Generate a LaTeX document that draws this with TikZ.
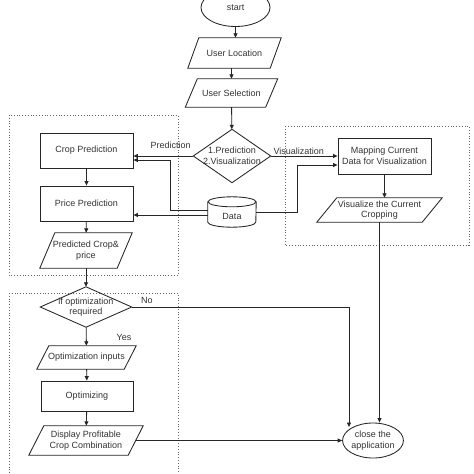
\documentclass[tikz,border=0pt]{standalone}
\usepackage{fontspec}
\setmainfont{Liberation Sans}
\usetikzlibrary{arrows.meta,calc,shapes.geometric}
\newcommand{\mypara}[2]{\draw[line] ($(#1.south west)+(-#2,0)$) -- ($(#1.north west)+(#2,0)$) -- ($(#1.north east)+(#2,0)$) -- ($(#1.south east)+(-#2,0)$) -- cycle;}
\newcommand{\mydiam}[1]{\draw[line] (#1.north) -- (#1.east) -- (#1.south) -- (#1.west) -- cycle;}
\begin{document}
\begin{tikzpicture}[x=1pt,y=-1pt,
  font=\fontsize{9}{10.5}\selectfont,
  line/.style={draw=black!85, line width=0.85pt},
  arr/.style={line, -{Triangle[length=4.5pt,width=4pt]}},
  box/.style={rectangle, line, text=black!80, align=center, inner sep=1pt},
  pl/.style={rectangle, text=black!80, align=center, inner sep=1pt},
  lbl/.style={text=black!80, inner sep=1pt},
  grp/.style={draw=black!60, dotted, line width=0.8pt},
  oval/.style={ellipse, line, text=black!80, align=center, inner sep=0pt}]
\useasboundingbox (0,0) rectangle (474,474);
\fill[white] (0,0) rectangle (474,474);
\clip (0,0) rectangle (474,474);

% group boxes
\draw[grp] (9,115) rectangle (178,275);
\draw[grp] (285,126) rectangle (469,245);
\draw[grp] (9,293) rectangle (178,480);

% nodes
\node[oval, minimum width=69pt, minimum height=38pt] (start) at (235.5,7.5) {start};
\node[pl, minimum width=82pt, minimum height=30pt] (loc) at (234.5,53) {User Location};
\node[pl, minimum width=80pt, minimum height=28pt] (sel) at (231.5,93) {User Selection};
\node[pl, minimum width=77pt, minimum height=53pt, inner sep=0pt] (dia) at (232,156) {1.Prediction\\2.Visualization};
\node[box, minimum width=93pt, minimum height=35pt] (crop) at (86.5,150.5) {Crop Prediction};
\node[box, minimum width=93pt, minimum height=35pt] (price) at (86.5,203.5) {Price Prediction};
\node[pl, minimum width=77pt, minimum height=35pt] (pred) at (86,250.5) {Predicted Crop\&\\price};
\node[rectangle, inner sep=0pt, minimum width=48pt, minimum height=30pt,
      label={[lbl,yshift=-4pt]center:Data}] (data) at (232,212) {};
\node[box, minimum width=93pt, minimum height=36pt] (map) at (384.5,156) {Mapping Current\\Data for Visualization};
\node[pl, minimum width=105pt, minimum height=24pt] (vis) at (379.5,210) {Visualize the Current\\Cropping};
\node[pl, minimum width=91pt, minimum height=40pt, inner sep=0pt] (ifo) at (86,307) {if optimization\\required};
\node[pl, minimum width=87pt, minimum height=23pt] (optin) at (86.5,357.5) {Optimization inputs};
\node[box, minimum width=92pt, minimum height=30pt] (opt) at (87,396) {Optimizing};
\node[pl, minimum width=99pt, minimum height=29pt] (disp) at (86,440.5) {Display Profitable\\Crop Combination};
\node[oval, minimum width=54pt, minimum height=35pt] (close) at (373,440.5) {close the\\application};

% shapes drawn around nodes
\mypara{loc}{5.5}
\mypara{sel}{6}
\mypara{pred}{7.5}
\mypara{vis}{10}
\mypara{optin}{6}
\mypara{disp}{7.5}
\mydiam{dia}
\mydiam{ifo}
\draw[line] ($(data.north west)+(0,5)$) -- ($(data.south west)+(0,-5)$)
  arc[start angle=180,end angle=360,x radius=24pt,y radius=5pt]
  -- ($(data.north east)+(0,5)$);
\draw[line] ($(data.north)+(0,5)$) ellipse[x radius=24pt,y radius=5pt];

% labels
\node[lbl] (nolbl) at (147,300) {No};
\node[lbl] (yeslbl) at (124,337) {Yes};

% helper coordinates
\coordinate (k1) at (170,160);
\coordinate (k2) at ($(data.west)+(0,3)$);
\coordinate (k3) at (297,165);
\coordinate (k4) at (349,427);

% connectors
\draw[arr] (start) -- (start |- loc.north);
\draw[arr] (loc.south -| sel.north) -- (sel.north);
\draw[arr] (sel) -- (dia);
\draw[arr] (dia.west) -- node[lbl, above=6pt, pos=0.38] (predlbl) {Prediction} (dia.west -| crop.east);
\draw[arr] (dia.east) -- node[lbl, above, pos=0.42] (vislbl) {Visualization} (dia.east -| map.west);
\draw[arr] ($(data.west)+(0,-2)$) -| (k1) -- (k1 -| crop.east);
\draw[arr] (k2) -- (k2 -| price.east);
\draw[arr] (data.east) -| (k3) -- (k3 -| map.west);
\draw[arr] (crop) -- (price);
\draw[arr] (price) -- (pred);
\draw[arr] (pred) -- (ifo);
\draw[arr] (map.south) -- (map.south |- vis.north);
\draw[arr] (vis.south) -- (vis.south |- close.north);
\draw[arr] (ifo) -- (optin);
\draw[arr] (optin) -- (opt);
\draw[arr] (opt) -- (disp);
\draw[arr] (ifo.east) -| (k4);
\draw[arr] (disp.east) -- (close.west);
\end{tikzpicture}
\end{document}
